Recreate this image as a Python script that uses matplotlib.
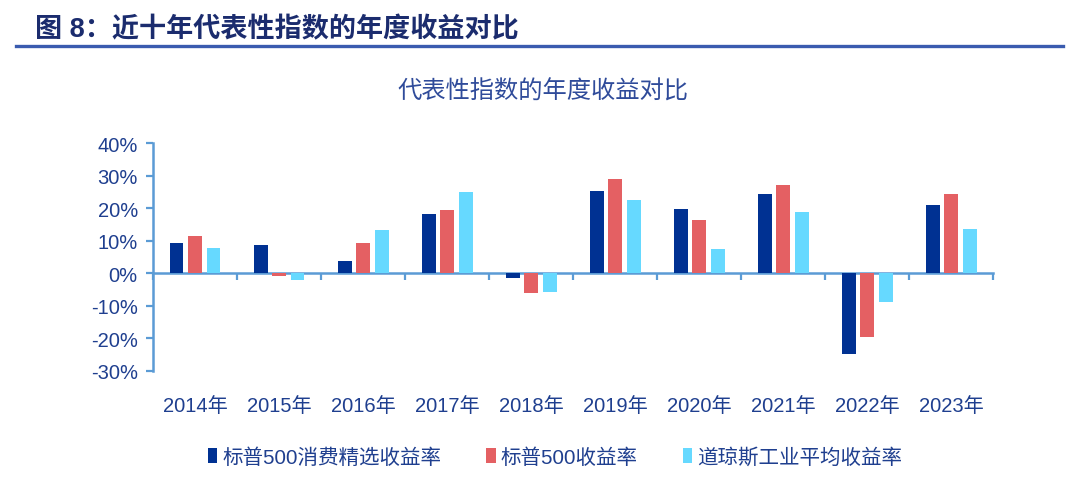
import matplotlib
matplotlib.use("Agg")
import matplotlib.pyplot as plt
import numpy as np
from matplotlib.lines import Line2D

years = ["2014年", "2015年", "2016年", "2017年", "2018年",
         "2019年", "2020年", "2021年", "2022年", "2023年"]
consumer_sel = [9.2, 8.6, 3.8, 18.1, -1.5, 25.4, 19.7, 24.5, -24.7, 21.0]
sp500 = [11.5, -0.7, 9.4, 19.4, -6.2, 28.9, 16.3, 27.0, -19.7, 24.5]
dow = [7.7, -2.1, 13.4, 25.1, -5.6, 22.5, 7.4, 18.8, -8.8, 13.7]
series_names = ["标普500消费精选收益率", "标普500收益率", "道琼斯工业平均收益率"]
y_ticks = [-30, -20, -10, 0, 10, 20, 30, 40]

FONTS = ["Liberation Sans", "Noto Sans CJK SC", "DejaVu Sans"]
plt.rcParams["font.family"] = FONTS

NAVY = "#003192"
RED = "#E46063"
CYAN = "#66D9FF"
TEXT = "#1F3F8F"
AXIS = "#5B9BD5"

fig = plt.figure(figsize=(10.8, 4.85), dpi=100)
ax = fig.add_axes([0.1417, 0.233, 0.778, 0.470])

x = np.arange(len(years))
w = 0.165
step = 0.22
for k, (vals, col) in enumerate(zip([consumer_sel, sp500, dow], [NAVY, RED, CYAN])):
    ax.bar(x + (k - 1) * step, vals, width=w, color=col, label=series_names[k], zorder=3)

ax.set_xlim(-0.5, len(years) - 0.5)
ax.set_ylim(-30, 40)
ax.set_yticks(y_ticks)
ax.set_yticklabels([f"{v}%" for v in y_ticks])
ax.set_xticks(x)
ax.set_xticklabels(years)

for s in ["top", "right", "bottom"]:
    ax.spines[s].set_visible(False)
ax.spines["left"].set_color(AXIS)
ax.spines["left"].set_linewidth(1.8)
ax.tick_params(axis="y", direction="out", length=5, width=1.6, color=AXIS,
               labelsize=14.5, labelcolor=TEXT, pad=6)
ax.tick_params(axis="x", length=0, labelsize=14.5, labelcolor=TEXT, pad=18)

# zero line with boundary ticks
zero = ax.secondary_xaxis(3 / 7)
zero.spines["bottom"].set_color(AXIS)
zero.spines["bottom"].set_linewidth(1.8)
zero.set_xticks(np.arange(len(years) + 1) - 0.5)
zero.tick_params(axis="x", direction="out", length=5, width=1.6, color=AXIS, labelbottom=False)

fig.text(0.032, 0.938, "图 8：近十年代表性指数的年度收益对比", fontsize=19.5,
         fontweight="bold", color="#1B2C6E", va="center", ha="left")
fig.add_artist(Line2D([16 / 1080, 1063 / 1080], [0.903, 0.903], color="#3A5BAF",
                      linewidth=2.4, transform=fig.transFigure))
fig.text(0.503, 1 - 92 / 485, "代表性指数的年度收益对比", fontsize=17.5,
         color="#2F4B9A", va="center", ha="center")

fig.legend(loc="center", bbox_to_anchor=(0.514, 1 - 458 / 485), ncol=3, frameon=False,
           fontsize=14.8, handlelength=0.45, handleheight=0.7, handletextpad=0.25,
           columnspacing=2.2, labelcolor=TEXT)

fig.savefig("out.png", dpi=100, facecolor="white")
